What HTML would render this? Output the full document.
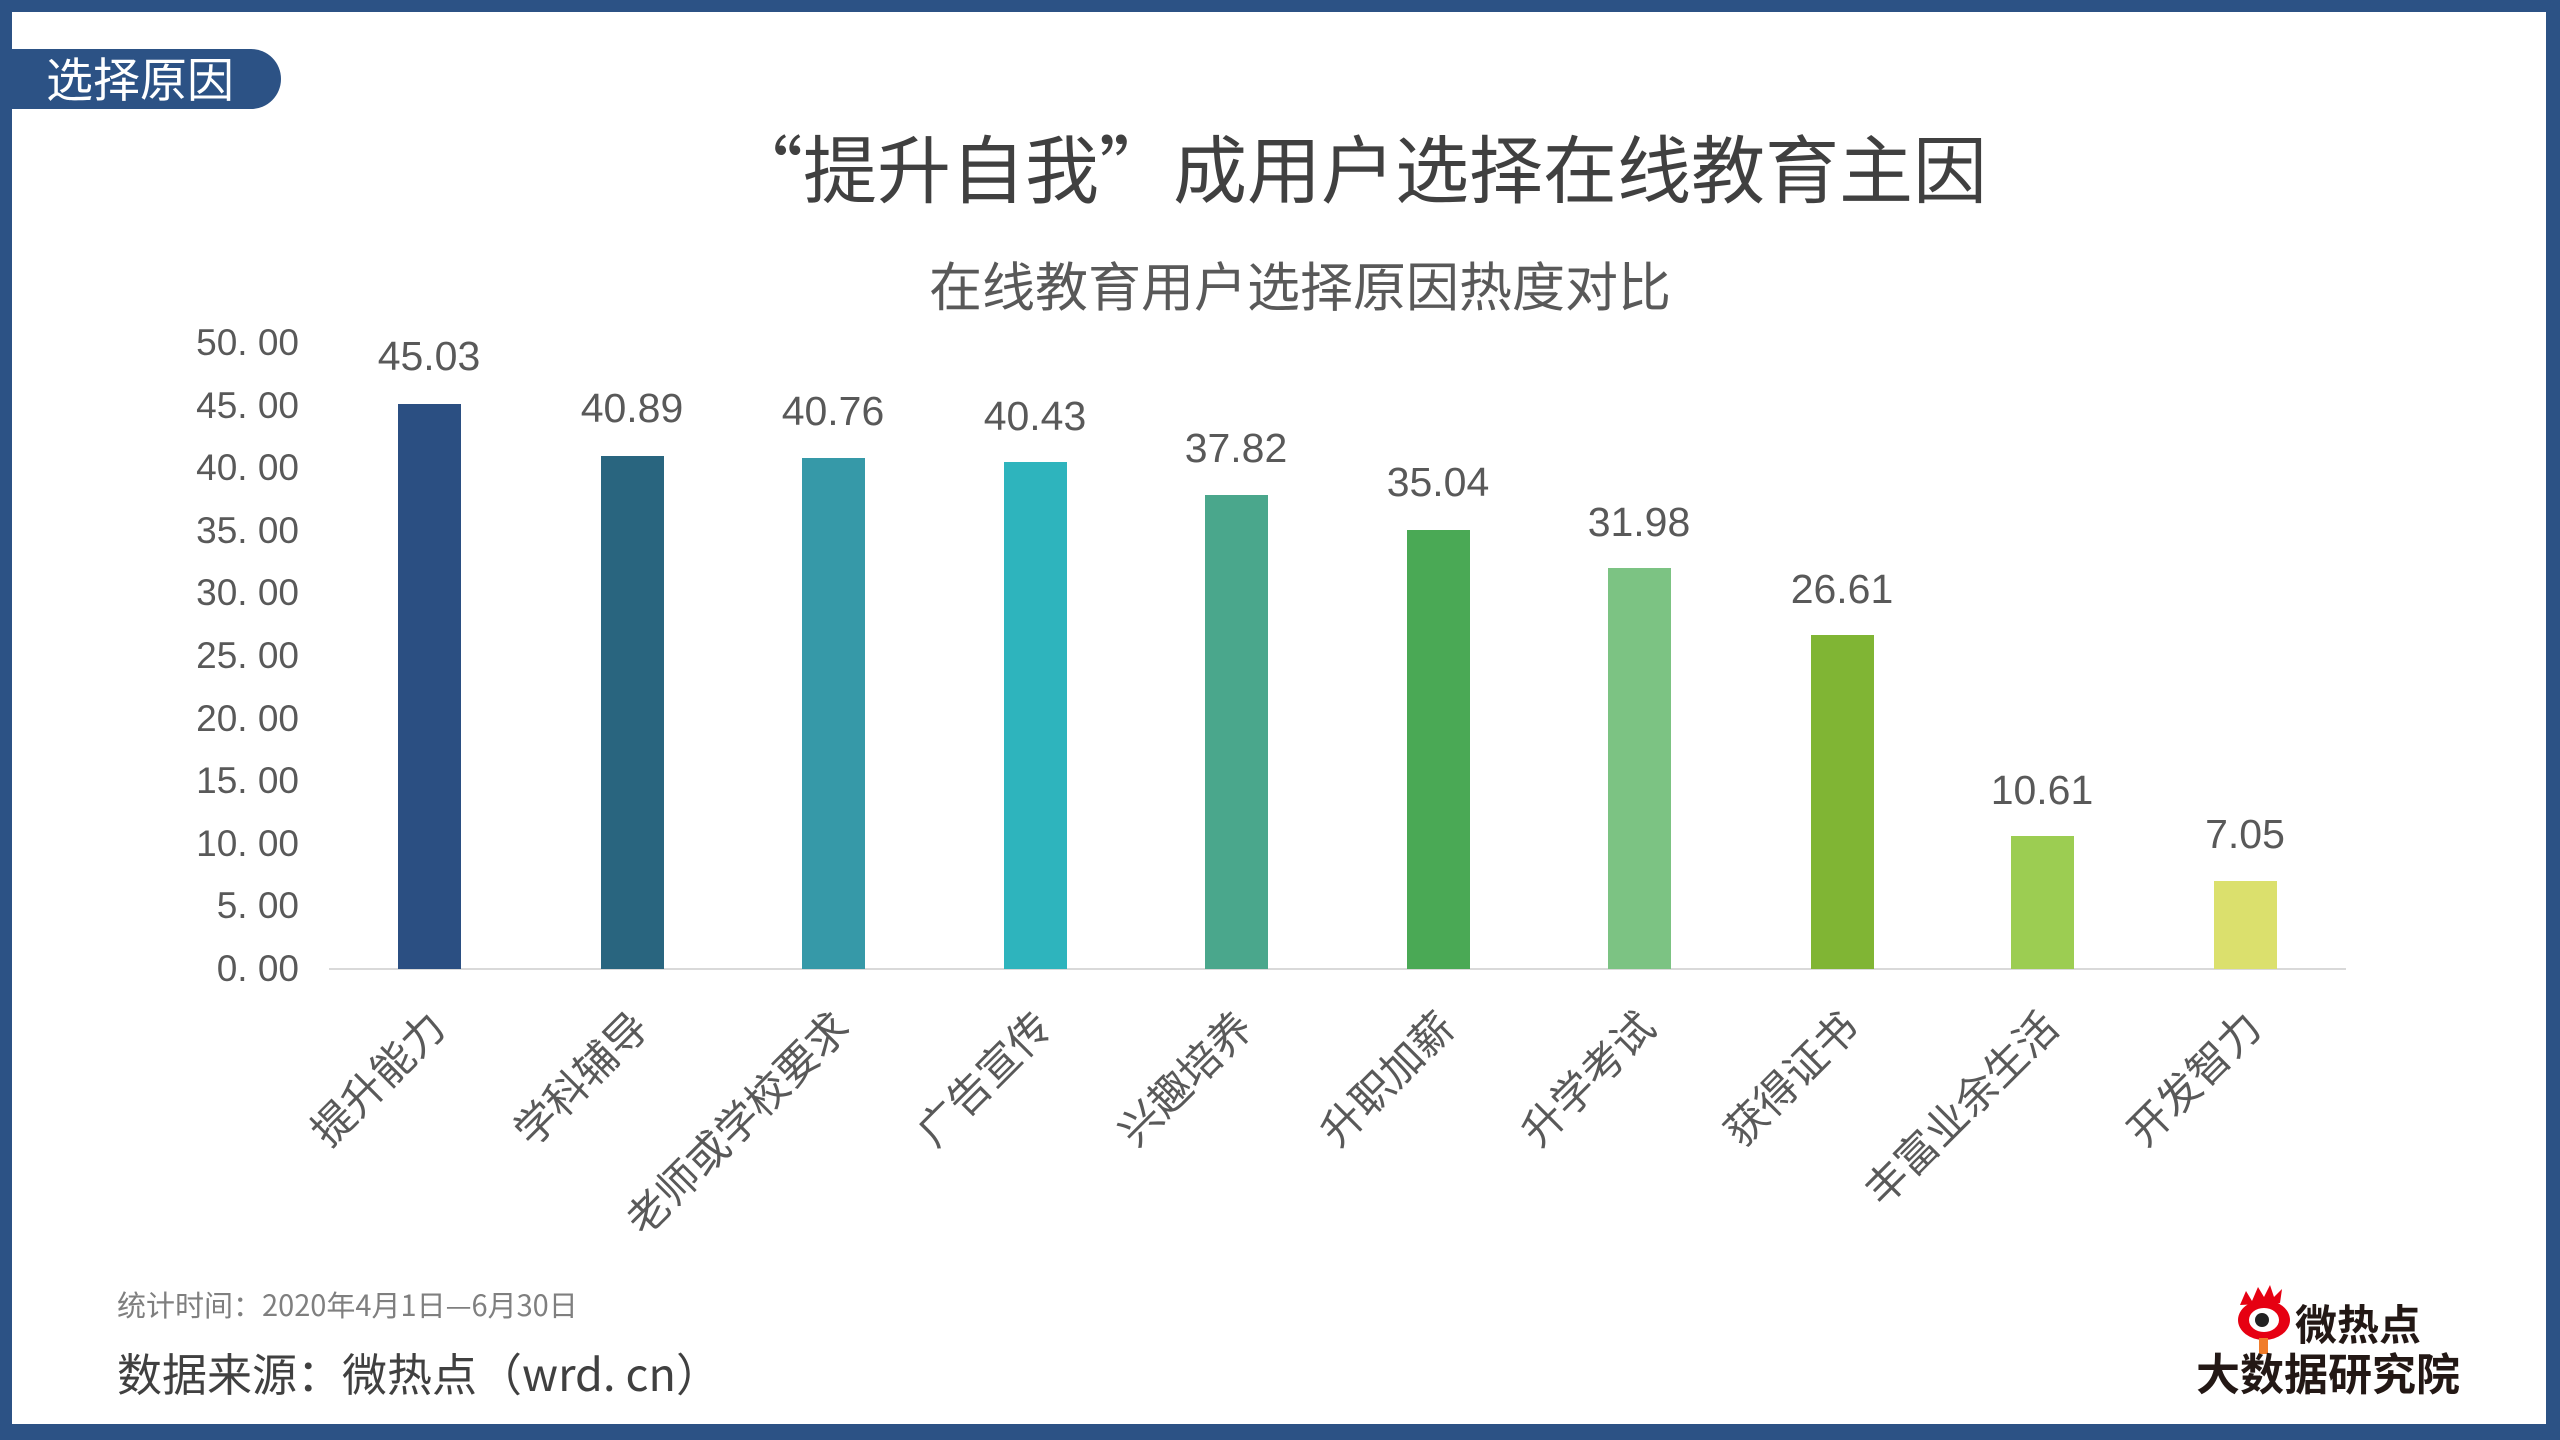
<!DOCTYPE html>
<html><head><meta charset="utf-8"><style>
html,body{margin:0;padding:0;}
body{width:2560px;height:1440px;overflow:hidden;background:#fff;}
svg{display:block;font-family:"Liberation Sans","Noto Sans CJK SC",sans-serif;}
.cjk{font-family:"Noto Sans CJK SC","Liberation Sans",sans-serif;}
</style></head><body>
<svg width="2560" height="1440" viewBox="0 0 2560 1440">
<rect x="0" y="0" width="2560" height="1440" fill="#2c5285"/>
<rect x="12" y="12" width="2534" height="1412" fill="#fff"/>
<path d="M12 49 H251 A30 30 0 0 1 251 109 H12 Z" fill="#2c5285"/>
<text x="46" y="97" font-size="47" fill="#fff" class="cjk">选择原因</text>
<text x="1358" y="197" font-size="74" fill="#404040" text-anchor="middle" class="cjk">“提升自我”成用户选择在线教育主因</text>
<text x="1300" y="306" font-size="53" fill="#595959" text-anchor="middle" class="cjk">在线教育用户选择原因热度对比</text>
<g font-size="37" fill="#595959" text-anchor="end">
<text x="299" y="355">50. 00</text>
<text x="299" y="418">45. 00</text>
<text x="299" y="480">40. 00</text>
<text x="299" y="543">35. 00</text>
<text x="299" y="605">30. 00</text>
<text x="299" y="668">25. 00</text>
<text x="299" y="731">20. 00</text>
<text x="299" y="793">15. 00</text>
<text x="299" y="856">10. 00</text>
<text x="299" y="918">5. 00</text>
<text x="299" y="981">0. 00</text>
</g>
<line x1="329" y1="969" x2="2346" y2="969" stroke="#d9d9d9" stroke-width="2"/>
<g font-size="41" fill="#595959" text-anchor="middle">
<rect x="398" y="404" width="63" height="565" fill="#2b4f82"/><text x="429" y="370">45.03</text>
<rect x="601" y="456" width="63" height="513" fill="#29657f"/><text x="632" y="422">40.89</text>
<rect x="802" y="458" width="63" height="511" fill="#3699a8"/><text x="833" y="425">40.76</text>
<rect x="1004" y="462" width="63" height="507" fill="#2eb4bd"/><text x="1035" y="430">40.43</text>
<rect x="1205" y="495" width="63" height="474" fill="#4aa78c"/><text x="1236" y="462">37.82</text>
<rect x="1407" y="530" width="63" height="439" fill="#4aa955"/><text x="1438" y="496">35.04</text>
<rect x="1608" y="568" width="63" height="401" fill="#7cc383"/><text x="1639" y="536">31.98</text>
<rect x="1811" y="635" width="63" height="334" fill="#80b534"/><text x="1842" y="603">26.61</text>
<rect x="2011" y="836" width="63" height="133" fill="#9ccd52"/><text x="2042" y="804">10.61</text>
<rect x="2214" y="881" width="63" height="88" fill="#dbe06d"/><text x="2245" y="848">7.05</text>
</g>
<g font-size="42" fill="#595959" text-anchor="end" class="cjk">
<text transform="translate(448,1030) rotate(-45)">提升能力</text>
<text transform="translate(651,1030) rotate(-45)">学科辅导</text>
<text transform="translate(852,1030) rotate(-45)">老师或学校要求</text>
<text transform="translate(1054,1030) rotate(-45)">广告宣传</text>
<text transform="translate(1255,1030) rotate(-45)">兴趣培养</text>
<text transform="translate(1457,1030) rotate(-45)">升职加薪</text>
<text transform="translate(1658,1030) rotate(-45)">升学考试</text>
<text transform="translate(1861,1030) rotate(-45)">获得证书</text>
<text transform="translate(2061,1030) rotate(-45)">丰富业余生活</text>
<text transform="translate(2264,1030) rotate(-45)">开发智力</text>
</g>
<text x="117" y="1316" font-size="29" fill="#7f7f7f" class="cjk">统计时间：2020年4月1日—6月30日</text>
<text x="117" y="1391" font-size="45" fill="#404040" class="cjk">数据来源：微热点（wrd. cn）</text>
<g>
<path d="M2240 1305 l6 -14 l6 10 l6 -14 l6 10 l6 -12 l4 12 l8 -8 l-2 14 Z" fill="#e60012"/>
<ellipse cx="2264" cy="1320" rx="26" ry="20" fill="#e60012"/>
<ellipse cx="2264" cy="1320" rx="15" ry="12" fill="#fff"/>
<circle cx="2262" cy="1320" r="7" fill="#222"/>
<rect x="2259" y="1338" width="9" height="16" fill="#f07c2a"/>
<text x="2295" y="1340" font-size="42" font-weight="bold" fill="#231815" class="cjk">微热点</text>
<text x="2196" y="1390" font-size="44" font-weight="bold" fill="#231815" class="cjk">大数据研究院</text>
</g>
</svg>
</body></html>
